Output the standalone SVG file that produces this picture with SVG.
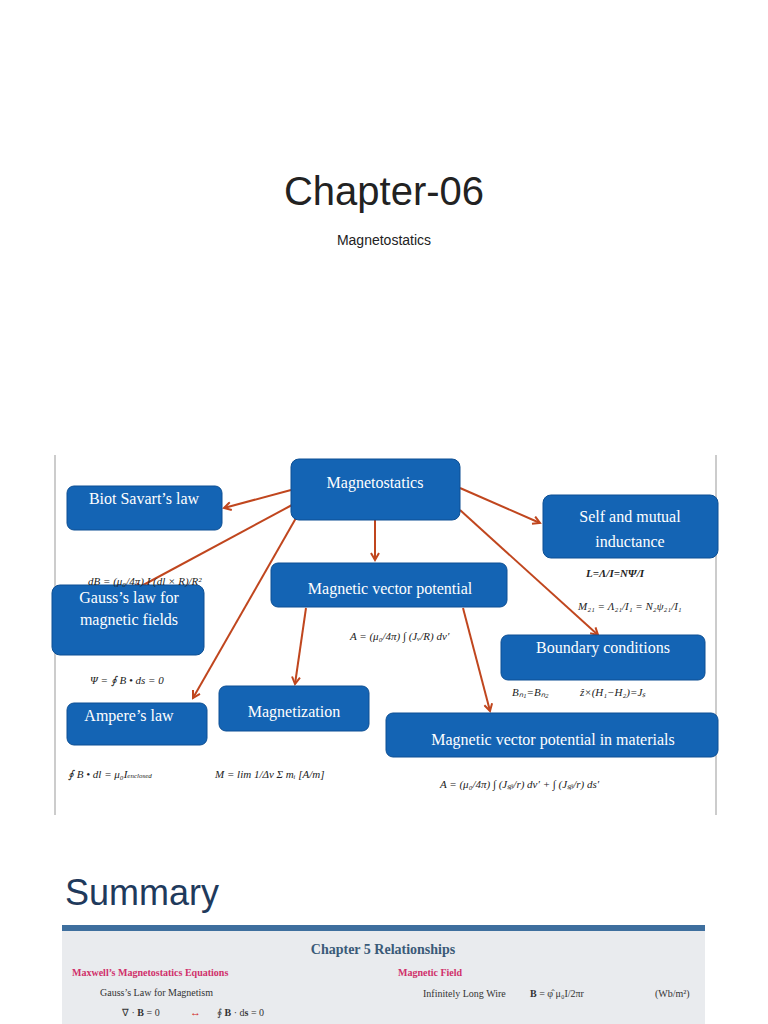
<svg xmlns="http://www.w3.org/2000/svg" width="768" height="1024" viewBox="0 0 768 1024">
<style>
.box{fill:#1464b4;stroke:#0d4f94;stroke-width:1}
.bt{font-family:"Liberation Serif",serif;font-size:16px;fill:#fff;text-anchor:middle}
.f{font-family:"Liberation Serif",serif;font-style:italic;font-size:11px;fill:#222}
.c{stroke:#c0461e;stroke-width:2;fill:none;marker-end:url(#a)}
</style>
<defs><marker id="a" markerWidth="10" markerHeight="10" refX="8" refY="5" orient="auto" markerUnits="userSpaceOnUse"><path d="M1,1 L8,5 L1,9" fill="none" stroke="#c0461e" stroke-width="2"/></marker></defs>
<rect width="768" height="1024" fill="#fff"/>
<text x="384" y="205" font-family="Liberation Sans,sans-serif" font-size="40" text-anchor="middle" fill="#222">Chapter-06</text>
<text x="384" y="245" font-family="Liberation Sans,sans-serif" font-size="14" text-anchor="middle" fill="#222">Magnetostatics</text>
<line x1="55" y1="455" x2="55" y2="815" stroke="#999"/>
<line x1="716" y1="455" x2="716" y2="815" stroke="#999"/>
<g id="connectors">
<path class="c" d="M291,490 L224,508"/>
<path class="c" d="M292,505 L134,590"/>
<path class="c" d="M296,518 L193,698"/>
<path class="c" d="M375,520 L375,560"/>
<path class="c" d="M460,488 L540,523"/>
<path class="c" d="M460,510 L598,635"/>
<path class="c" d="M306,608 L295,684"/>
<path class="c" d="M463,608 L490,711"/>
</g>
<g id="n1"><rect class="box" x="291" y="459" width="169" height="61" rx="8"/><text class="bt" x="375" y="488">Magnetostatics</text></g>
<g id="n2"><rect class="box" x="67" y="486" width="155" height="44" rx="7"/><text class="bt" x="144" y="504">Biot Savart’s law</text></g>
<g id="n3"><rect class="box" x="543" y="495" width="175" height="63" rx="8"/><text class="bt" x="630" y="522">Self and mutual</text><text class="bt" x="630" y="547">inductance</text></g>
<g id="n4"><rect class="box" x="271" y="563" width="236" height="44" rx="7"/><text class="bt" x="390" y="594">Magnetic vector potential</text></g>
<g id="n5"><rect class="box" x="52" y="585" width="152" height="70" rx="8"/><text class="bt" x="129" y="603">Gauss’s law for</text><text class="bt" x="129" y="625">magnetic fields</text></g>
<g id="n6"><rect class="box" x="501" y="635" width="204" height="45" rx="7"/><text class="bt" x="603" y="653">Boundary conditions</text></g>
<g id="n7"><rect class="box" x="67" y="703" width="140" height="42" rx="7"/><text class="bt" x="129" y="721">Ampere’s law</text></g>
<g id="n8"><rect class="box" x="219" y="686" width="150" height="45" rx="7"/><text class="bt" x="294" y="717">Magnetization</text></g>
<g id="n9"><rect class="box" x="386" y="713" width="332" height="44" rx="7"/><text class="bt" x="553" y="745">Magnetic vector potential in materials</text></g>
<g id="formulas">
<text class="f" x="88" y="585" font-size="9">dB = (μ₀/4π) I (dl × R)/R²</text>
<text class="f" x="586" y="577" font-style="normal" font-weight="bold" font-size="12">L=Λ/I=NΨ/I</text>
<text class="f" x="578" y="610" font-size="12">M₂₁ = Λ₂₁/I₁ = N₂ψ₂₁/I₁</text>
<text class="f" x="350" y="640" font-size="11">A = (μ₀/4π) ∫ (Jᵥ/R) dv′</text>
<text class="f" x="90" y="684" font-size="12">Ψ = ∮ B • ds = 0</text>
<text class="f" x="512" y="696" font-style="normal" font-size="12">Bₙ₁=Bₙ₂</text>
<text class="f" x="580" y="696" font-size="12">ẑ×(H₁−H₂)=Jₛ</text>
<text class="f" x="68" y="778" font-size="11">∮ B • dl = μ₀I<tspan font-size="7">enclosed</tspan></text>
<text class="f" x="215" y="778" font-size="12">M = lim 1/Δv Σ mᵢ [A/m]</text>
<text class="f" x="440" y="788" font-size="13">A = (μ₀/4π) ∫ (Jₛᵦ/r) dv′ + ∫ (Jₛᵦ/r) ds′</text>
</g>
<text x="65" y="905" font-family="Liberation Sans,sans-serif" font-size="36" fill="#1f3a5c">Summary</text>
<rect x="62" y="925" width="643" height="6" fill="#3e6f9e"/>
<rect x="62" y="931" width="643" height="93" fill="#e9ebee"/>
<text x="383" y="954" font-family="Liberation Serif,serif" font-weight="bold" font-size="14" text-anchor="middle" fill="#3a5a78">Chapter 5 Relationships</text>
<text x="72" y="976" font-family="Liberation Serif,serif" font-weight="bold" font-size="10" fill="#d0306a">Maxwell’s Magnetostatics Equations</text>
<text x="398" y="976" font-family="Liberation Serif,serif" font-weight="bold" font-size="10" fill="#d0306a">Magnetic Field</text>
<text x="100" y="996" font-family="Liberation Serif,serif" font-size="10" fill="#333">Gauss’s Law for Magnetism</text>
<text x="122" y="1016" font-family="Liberation Serif,serif" font-size="10" fill="#333">∇ · <tspan font-weight="bold">B</tspan> = 0</text>
<text x="190" y="1016" font-family="Liberation Sans,sans-serif" font-size="11" fill="#d02020">↔</text>
<text x="217" y="1016" font-family="Liberation Serif,serif" font-size="10" fill="#333">∮ <tspan font-weight="bold">B</tspan> · d<tspan font-weight="bold">s</tspan> = 0</text>
<text x="423" y="997" font-family="Liberation Serif,serif" font-size="10" fill="#333">Infinitely Long Wire</text>
<text x="530" y="997" font-family="Liberation Serif,serif" font-size="10" fill="#333"><tspan font-weight="bold">B</tspan> = φ̂ μ₀I/2πr</text>
<text x="655" y="997" font-family="Liberation Serif,serif" font-size="10" fill="#333">(Wb/m²)</text>
</svg>
